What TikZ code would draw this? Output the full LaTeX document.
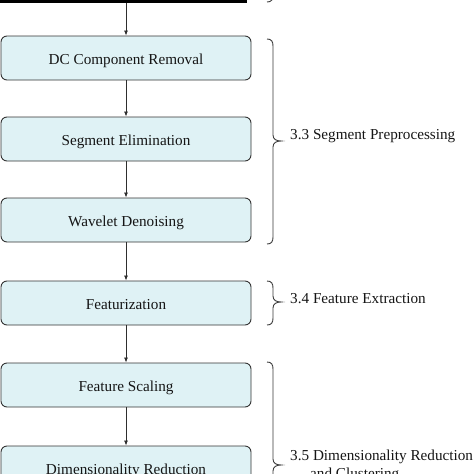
\documentclass[tikz,border=0pt]{standalone}
\usepackage{fontspec}
\setmainfont{Liberation Serif}
\usetikzlibrary{arrows.meta}
\definecolor{boxfill}{HTML}{DFF2F5}
\definecolor{boxline}{HTML}{333333}
\definecolor{arrowc}{HTML}{2E2E2E}
\definecolor{bracecol}{HTML}{3A3A3A}
\definecolor{txt}{HTML}{151515}
\newcommand\mybrace[3]{\draw[bracec] (267,#1) .. controls (271.5,#1) and (273,#1+2.5) .. (273,#1+7) -- (273,#2-6) .. controls (273,#2-2) and (276,#2) .. (281,#2) .. controls (276,#2) and (273,#2+2) .. (273,#2+6) -- (273,#3-7) .. controls (273,#3-2.5) and (271.5,#3) .. (267,#3);}
\begin{document}
\begin{tikzpicture}[x=1pt,y=-1pt,
  stepbox/.style={draw=boxline, fill=boxfill, line width=0.9pt, rounded corners=6pt,
    minimum width=250pt, minimum height=44pt, inner sep=0pt,
    text height=14pt, text depth=2pt, font=\fontsize{15.2}{18}\selectfont, text=txt},
  flow/.style={draw=arrowc, line width=0.8pt, -{Latex[length=5pt,width=4pt]}},
  bracec/.style={draw=bracecol, line width=0.9pt},
  lbl/.style={anchor=base west, inner sep=0pt, font=\fontsize{15.2}{18}\selectfont, text=txt}]
\useasboundingbox (0,0) rectangle (474,474);
\clip (0,0) rectangle (474,474);
\node[fill=black, minimum width=247pt, minimum height=3.5pt, inner sep=0pt] (prev) at (123.5,0.75) {};
\node[stepbox] (b1) at (126,58) {DC Component Removal};
\node[stepbox] (b2) at (126,139) {Segment Elimination};
\node[stepbox] (b3) at (126,220) {Wavelet Denoising};
\node[stepbox] (b4) at (126,303) {Featurization};
\node[stepbox] (b5) at (126,385) {Feature Scaling};
\node[stepbox] (b6) at (126,468) {Dimensionality Reduction};
\draw[flow] (b1.north |- prev.south) -- (b1.north);
\draw[flow] (b1) -- (b2);
\draw[flow] (b2) -- (b3);
\draw[flow] (b3) -- (b4);
\draw[flow] (b4) -- (b5);
\draw[flow] (b5) -- (b6);
\draw[bracec] (273,-10) -- (273,-5) .. controls (273,-0.5) and (271.5,2) .. (267,2);
\mybrace{39}{141}{244}
\mybrace{281}{302}{325}
\mybrace{362}{465}{568}
\node[lbl] (l1) at (290,139) {3.3 Segment Preprocessing};
\node[lbl] (l2) at (290,303) {3.4 Feature Extraction};
\node[lbl] (l3) at (290,460) {3.5 Dimensionality Reduction};
\node[lbl] (l3b) at (310,478) {and Clustering};
\end{tikzpicture}
\end{document}
